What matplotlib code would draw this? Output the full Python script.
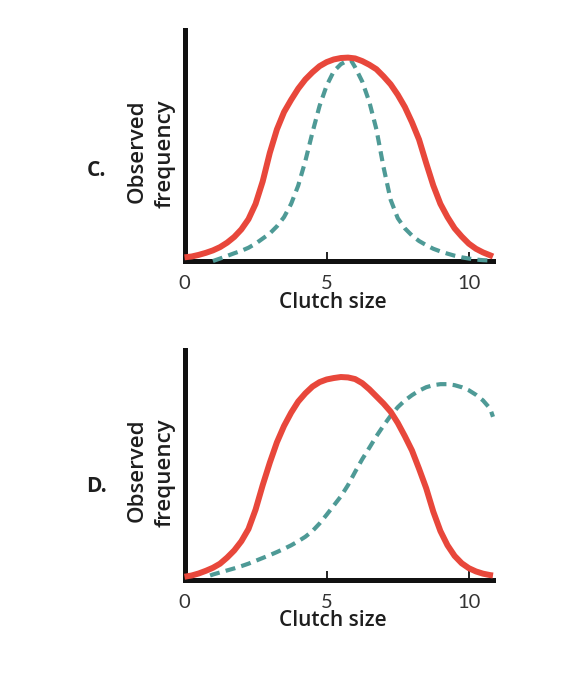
import matplotlib
matplotlib.use("Agg")
import matplotlib.pyplot as plt

# ---- data ----
red_top_x = [0, 0.25, 0.5, 0.75, 1.0, 1.25, 1.5, 1.75, 2.0, 2.25, 2.5, 2.75, 3.0, 3.25, 3.5,
             3.75, 4.0, 4.25, 4.5, 4.75, 5.0, 5.25, 5.5, 5.75, 6.0, 6.25, 6.5, 6.75, 7.0,
             7.25, 7.5, 7.75, 8.0, 8.25, 8.5, 8.75, 9.0, 9.25, 9.5, 9.75, 10.0, 10.25,
             10.5, 10.75, 10.85]
red_top_y = [0.018, 0.022, 0.03, 0.04, 0.052, 0.068, 0.09, 0.118, 0.155, 0.205, 0.28, 0.39,
             0.53, 0.645, 0.73, 0.79, 0.845, 0.89, 0.925, 0.955, 0.975, 0.988, 0.995, 0.997,
             0.993, 0.98, 0.962, 0.94, 0.905, 0.866, 0.815, 0.755, 0.68, 0.595, 0.48, 0.37,
             0.28, 0.215, 0.16, 0.12, 0.085, 0.06, 0.042, 0.028, 0.022]

teal_top_x = [1.0, 1.25, 1.5, 1.75, 2.0, 2.25, 2.5, 2.75, 3.0, 3.25, 3.5, 3.75, 4.0, 4.25,
              4.5, 4.75, 5.0, 5.25, 5.5, 5.7, 5.85, 6.0, 6.25, 6.5, 6.75, 7.0, 7.25, 7.5,
              7.75, 8.0, 8.25, 8.5, 8.75, 9.0, 9.25, 9.5, 9.75, 10.0, 10.25, 10.5, 10.85]
teal_top_y = [0.0, 0.012, 0.025, 0.038, 0.05, 0.065, 0.085, 0.11, 0.135, 0.17, 0.215, 0.28,
              0.37, 0.49, 0.63, 0.76, 0.86, 0.93, 0.965, 0.98, 0.985, 0.95, 0.88, 0.78,
              0.645, 0.46, 0.30, 0.21, 0.16, 0.125, 0.098, 0.078, 0.06, 0.047, 0.036, 0.026,
              0.018, 0.012, 0.007, 0.004, 0.002]

red_bot_x = [0, 0.25, 0.5, 0.75, 1.0, 1.25, 1.5, 1.75, 2.0, 2.25, 2.5, 2.75, 3.0, 3.25, 3.5,
             3.75, 4.0, 4.25, 4.5, 4.75, 5.0, 5.25, 5.5, 5.75, 6.0, 6.25, 6.5, 6.75, 7.0,
             7.25, 7.5, 7.75, 8.0, 8.25, 8.5, 8.75, 9.0, 9.25, 9.5, 9.75, 10.0, 10.25,
             10.5, 10.75, 10.85]
red_bot_y = [0.016, 0.022, 0.032, 0.045, 0.06, 0.08, 0.11, 0.145, 0.19, 0.25, 0.345, 0.465,
             0.575, 0.675, 0.755, 0.82, 0.875, 0.915, 0.948, 0.97, 0.983, 0.99, 0.995,
             0.993, 0.985, 0.965, 0.935, 0.90, 0.865, 0.825, 0.77, 0.705, 0.635, 0.545,
             0.45, 0.335, 0.24, 0.17, 0.118, 0.082, 0.058, 0.042, 0.031, 0.024, 0.022]

teal_bot_x = [0.9, 1.0, 1.25, 1.5, 1.75, 2.0, 2.25, 2.5, 2.75, 3.0, 3.25, 3.5, 3.75, 4.0,
              4.25, 4.5, 4.75, 5.0, 5.25, 5.5, 5.75, 6.0, 6.25, 6.5, 6.75, 7.0, 7.25, 7.5,
              7.75, 8.0, 8.25, 8.5, 8.75, 9.0, 9.25, 9.5, 9.75, 10.0, 10.25, 10.5, 10.75,
              10.85]
teal_bot_y = [0.022, 0.027, 0.037, 0.047, 0.057, 0.068, 0.08, 0.094, 0.108, 0.122, 0.137,
              0.153, 0.17, 0.19, 0.212, 0.24, 0.277, 0.32, 0.365, 0.41, 0.465, 0.53, 0.592,
              0.648, 0.705, 0.757, 0.805, 0.847, 0.88, 0.906, 0.928, 0.945, 0.955, 0.96,
              0.96, 0.955, 0.945, 0.93, 0.908, 0.88, 0.84, 0.80]

xticks = [0, 5, 10]
xtick_labels = ["0", "5", "10"]
panel_labels = ["C.", "D."]
ylabel_text = "Observed\nfrequency"
xlabel_text = "Clutch size"

RED = "#E8473B"
TEAL = "#4E9A96"
INK = "#1E1E1E"
W, H = 564, 698

fig = plt.figure(figsize=(W / 100, H / 100), dpi=100)


def fx(px):
    return px / W


def fy(py):
    return 1 - py / H


panels = [
    dict(axis_y=261, top=30, red=(red_top_x, red_top_y), teal=(teal_top_x, teal_top_y),
         label_y=171, ylab_y=154),
    dict(axis_y=580, top=350, red=(red_bot_x, red_bot_y), teal=(teal_bot_x, teal_bot_y),
         label_y=486, ylab_y=473),
]

left_px, right_px = 184.5, 493
for i, p in enumerate(panels):
    ax = fig.add_axes([fx(left_px), fy(p["axis_y"]), (right_px - left_px) / W,
                       (p["axis_y"] - p["top"]) / H])
    ax.set_xlim(0, 10.85)
    ax.set_ylim(0, (p["axis_y"] - p["top"]) / 204)
    ax.plot(*p["teal"], color=TEAL, lw=3.0, dashes=(2.4, 1.5), dash_capstyle="butt",
            dash_joinstyle="round", zorder=4, clip_on=False)
    ax.plot(*p["red"], color=RED, lw=4.3, solid_capstyle="butt", solid_joinstyle="round",
            zorder=5, clip_on=False)
    for s in ["top", "right"]:
        ax.spines[s].set_visible(False)
    for s in ["left", "bottom"]:
        ax.spines[s].set_linewidth(3.6)
        ax.spines[s].set_color("#111111")
        ax.spines[s].set_zorder(3)
    ax.set_yticks([])
    ax.set_xticks(xticks)
    ax.set_xticklabels(xtick_labels, fontfamily="Lato", fontweight="normal", fontsize=14.5,
                       color="#333333")
    ax.tick_params(axis="x", direction="in", length=6.5, width=1.3, color="#111111", pad=10)
    fig.text(fx(333), fy(p["axis_y"] + 41), xlabel_text, ha="center", va="center",
             fontfamily="Open Sans", fontweight="semibold", fontsize=15, color=INK)
    fig.text(fx(151), fy(p["ylab_y"]), ylabel_text, rotation=90, ha="center", va="center",
             multialignment="right", fontfamily="Open Sans", fontweight="semibold",
             fontsize=16, color=INK, linespacing=1.4)
    fig.text(fx(97), fy(p["label_y"]), panel_labels[i], ha="center", va="center",
             fontfamily="Open Sans", fontweight="bold", fontsize=15, color=INK)

fig.savefig("out.png", dpi=100)
